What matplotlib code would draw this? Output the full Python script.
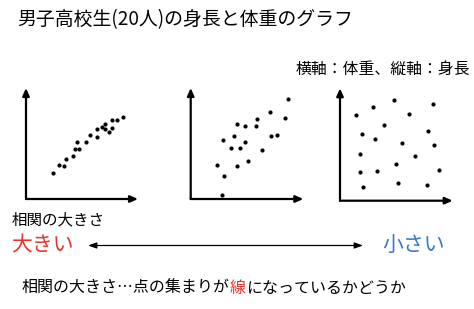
import matplotlib.pyplot as plt

plt.rcParams['font.family'] = ['Noto Sans CJK JP', 'DejaVu Sans']

# 散布図のデータ（原点からの距離で読み取った値）
x1 = [27.3, 33.3, 38.3, 40, 46.7, 48.7, 53.3, 50.7, 60.3, 63.7, 71.3, 71.3, 76, 78.7, 79.3, 82.7, 86, 86, 90.7, 97]
y1 = [26.3, 34, 33, 39.7, 43, 50.3, 50.3, 57.3, 57.3, 64, 62.3, 70, 71.7, 74.7, 70, 66.7, 71.3, 78.7, 78.7, 82.3]

x2 = [97, 79, 94.3, 66.6, 46.6, 54.6, 65.6, 43.3, 32.6, 80.6, 86, 54.6, 40.6, 49, 71.6, 57.3, 26.3, 46.3, 33.6, 31.6]
y2 = [100.3, 87, 81.3, 79.7, 74.7, 73.3, 73.3, 63, 59.3, 63, 64.3, 57.3, 51.3, 51.3, 49.3, 38, 33.7, 33.3, 23.3, 4]

x3 = [54, 33, 93, 15.7, 68.7, 44, 21.7, 87.7, 35, 62, 94, 19.7, 74.7, 55.7, 20.3, 37.3, 98.7, 57.7, 87, 22.7]
y3 = [101, 93.7, 96.4, 85.7, 86.4, 75.7, 67, 70, 61.4, 57.7, 55.7, 46.4, 44.4, 36.7, 28.7, 30, 31, 17.7, 15.7, 13.7]

panels = [(x1, y1), (x2, y2), (x3, y3)]

title = '男子高校生(20人)の身長と体重のグラフ'
axis_note = '横軸：体重、縦軸：身長'
label_corr = '相関の大きさ'
label_big = '大きい'
label_small = '小さい'
bottom_parts = ['相関の大きさ…点の集まりが', '線', 'になっているかどうか']

red = '#e8322a'
blue = '#3a77c6'

W, H = 474, 309
fig = plt.figure(figsize=(W / 100, H / 100), dpi=100)
fig.patch.set_facecolor('white')

# パネルの位置（ピクセル）: 原点x, 原点y, 幅, 高さ
boxes = [(26, 199, 112, 111), (190.7, 199, 112.6, 111), (340, 200.7, 112.7, 112.4)]

for (px, py, w, h), (xs, ys) in zip(boxes, panels):
    ax = fig.add_axes([px / W, (H - py) / H, w / W, h / H])
    ax.set_xlim(0, w)
    ax.set_ylim(0, h)
    ax.axis('off')
    ax.scatter(xs, ys, s=9, color='black', linewidths=0, clip_on=False)
    ax.annotate('', xy=(1, 0), xytext=(0, 0), xycoords='axes fraction',
                arrowprops=dict(arrowstyle='-|>,head_length=0.45,head_width=0.2',
                                color='black', lw=1.6, shrinkA=0, shrinkB=0))
    ax.annotate('', xy=(0, 1), xytext=(0, 0), xycoords='axes fraction',
                arrowprops=dict(arrowstyle='-|>,head_length=0.45,head_width=0.2',
                                color='black', lw=1.6, shrinkA=0, shrinkB=0))

# 文字用の全体座標
tx = fig.add_axes([0, 0, 1, 1])
tx.set_xlim(0, W)
tx.set_ylim(H, 0)
tx.axis('off')

tx.text(17, 20, title, fontsize=13.6, va='center', ha='left')
tx.text(470, 69, axis_note, fontsize=11.4, va='center', ha='right')
tx.text(12, 220, label_corr, fontsize=11.2, va='center', ha='left')
tx.text(11, 245, label_big, fontsize=15, va='center', ha='left', color=red)
tx.text(382, 245, label_small, fontsize=15, va='center', ha='left', color=blue)

tx.annotate('', xy=(88, 245.5), xytext=(363, 245.5), xycoords='data',
            arrowprops=dict(arrowstyle='<|-|>,head_length=0.5,head_width=0.18',
                            color='black', lw=0.9, shrinkA=0, shrinkB=0))

t = tx.text(22, 288, bottom_parts[0], fontsize=11.5, va='center', ha='left')
t = tx.annotate(bottom_parts[1], xy=(1, 0), xycoords=t, va='bottom', ha='left',
                fontsize=11.5, color=red)
tx.annotate(bottom_parts[2], xy=(1, 0), xycoords=t, va='bottom', ha='left',
            fontsize=11.5)

fig.savefig('out.png', dpi=100, facecolor='white')
